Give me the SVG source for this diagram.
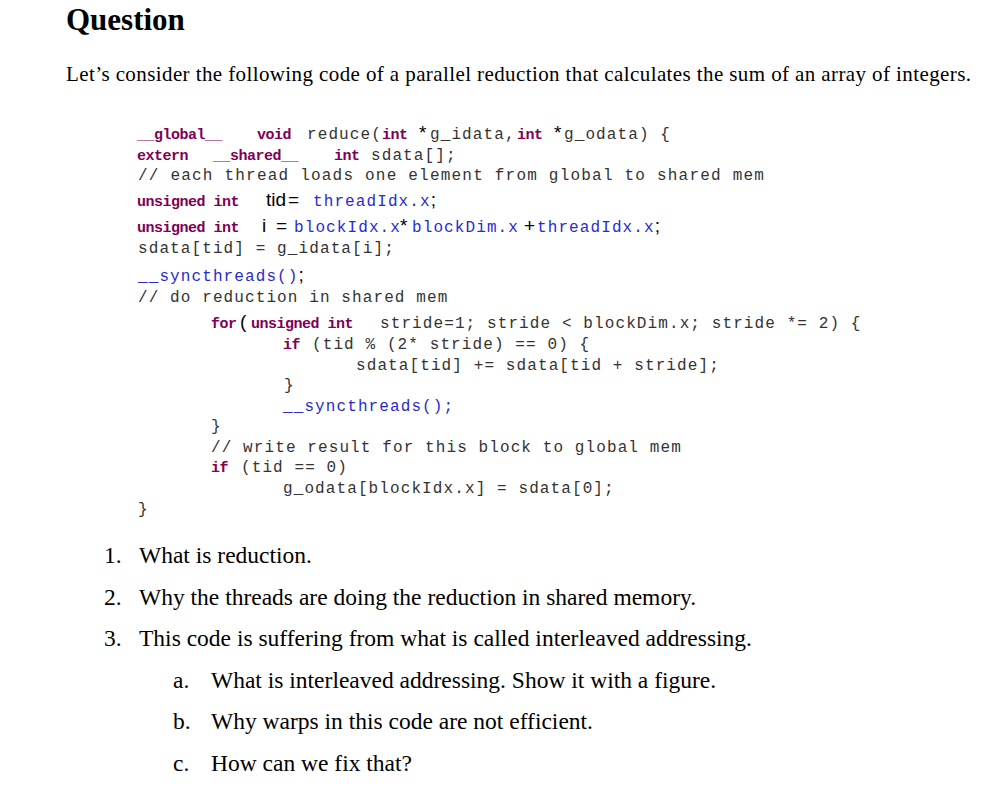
<svg xmlns="http://www.w3.org/2000/svg" width="1001" height="787" viewBox="0 0 1001 787">
<style>
.s{font-family:"Liberation Serif",serif;fill:#000}
.c{font-family:"Liberation Mono",monospace;font-size:16px;fill:#333;letter-spacing:1.1px}
.k{font-weight:bold;fill:#7f0055;font-size:15px;letter-spacing:-0.5px}
.b{fill:#2a2ad0}
.a{font-family:"Liberation Sans",sans-serif;font-size:19px;fill:#000;letter-spacing:0}
</style>
<rect width="1001" height="787" fill="#fff"/>
<text class="s" x="66" y="30" font-size="31" font-weight="bold">Question</text>
<text class="s" x="66" y="81" font-size="21" textLength="905">Let’s consider the following code of a parallel reduction that calculates the sum of an array of integers.</text>
<g class="c">
<text y="139"><tspan x="137" class="k">__global__</tspan><tspan x="257" class="k">void</tspan><tspan x="307">reduce(</tspan><tspan x="382" class="k">int</tspan><tspan x="419" class="a">*</tspan><tspan x="430">g_idata,</tspan><tspan x="517" class="k">int</tspan><tspan x="554" class="a">*</tspan><tspan x="564">g_odata) {</tspan></text>
<text y="160"><tspan x="137" class="k">extern</tspan><tspan x="213" class="k">__shared__</tspan><tspan x="334" class="k">int</tspan><tspan x="371">sdata[];</tspan></text>
<text x="138" y="180" textLength="627">// each thread loads one element from global to shared mem</text>
<text y="206"><tspan x="137" class="k">unsigned int</tspan><tspan x="266" class="a">tid</tspan><tspan x="288" class="a">=</tspan><tspan x="313" class="b">threadIdx.x</tspan><tspan class="a">;</tspan></text>
<text y="232"><tspan x="137" class="k">unsigned int</tspan><tspan x="262" class="a">i</tspan><tspan x="276" class="a">=</tspan><tspan x="294" class="b">blockIdx.x</tspan><tspan x="400" class="a">*</tspan><tspan x="412" class="b">blockDim.x</tspan><tspan x="524" class="a">+</tspan><tspan x="537" class="b">threadIdx.x</tspan><tspan class="a">;</tspan></text>
<text x="138" y="253">sdata[tid] = g_idata[i];</text>
<text y="281"><tspan x="138" class="b">__syncthreads()</tspan><tspan class="a">;</tspan></text>
<text x="138" y="302">// do reduction in shared mem</text>
<text y="328"><tspan x="211" class="k">for</tspan><tspan x="240" class="a" font-size="21">(</tspan><tspan x="251" class="k">unsigned int</tspan><tspan x="380">stride=1; stride &lt; blockDim.x; stride *= 2) {</tspan></text>
<text y="349"><tspan x="283" class="k">if</tspan><tspan x="312">(tid % (2* stride) == 0) {</tspan></text>
<text x="356" y="370">sdata[tid] += sdata[tid + stride];</text>
<text x="284" y="390">}</text>
<text x="283" y="411" class="b">__syncthreads();</text>
<text x="211" y="431">}</text>
<text x="211" y="452">// write result for this block to global mem</text>
<text y="472"><tspan x="211" class="k">if</tspan><tspan x="241">(tid == 0)</tspan></text>
<text x="283" y="493">g_odata[blockIdx.x] = sdata[0];</text>
<text x="138" y="514">}</text>
</g>
<g class="s" font-size="23.5">
<text x="104" y="563">1.</text><text x="139" y="563">What is reduction.</text>
<text x="104" y="605">2.</text><text x="139" y="605">Why the threads are doing the reduction in shared memory.</text>
<text x="104" y="646">3.</text><text x="139" y="646">This code is suffering from what is called interleaved addressing.</text>
<text x="173" y="688">a.</text><text x="211" y="688">What is interleaved addressing. Show it with a figure.</text>
<text x="173" y="729">b.</text><text x="211" y="729">Why warps in this code are not efficient.</text>
<text x="173" y="771">c.</text><text x="211" y="771">How can we fix that?</text>
</g>
</svg>
